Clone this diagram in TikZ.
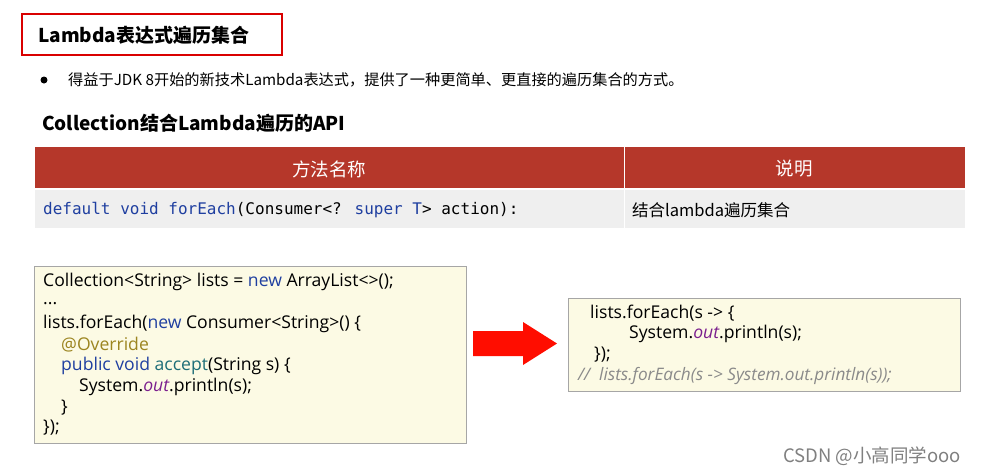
\documentclass[tikz,border=0pt]{standalone}
\usepackage{fontspec}
\setmainfont{Noto Sans CJK SC}
\newfontfamily\monof{DejaVu Sans Mono}
\newfontfamily\codef{Open Sans}
\definecolor{hdr}{HTML}{B5372A}
\definecolor{rowg}{HTML}{EFEFEF}
\definecolor{codebg}{HTML}{FCFAE4}
\definecolor{kw}{HTML}{1F3FA0}
\definecolor{mth}{HTML}{1E6E78}
\definecolor{ann}{HTML}{9C8520}
\definecolor{fld}{HTML}{7B1F8E}
\definecolor{cmt}{HTML}{8A8A8A}
\tikzset{x=1pt,y=-1pt,
  txt/.style={anchor=west,inner sep=0pt},
  code/.style={txt,font=\codef\fontsize{17.6}{18}\selectfont},
  hd/.style={text=white,font=\fontsize{18.5}{20}\selectfont}}
\begin{document}
\begin{tikzpicture}
\useasboundingbox (0,0) rectangle (981,474);
\fill[white] (0,0) rectangle (981,474);
\draw[red!85!black,line width=1.5pt] (22,14) rectangle (282,55);
\node[txt,font=\fontsize{19}{20}\selectfont\bfseries] (t) at (38,35) {Lambda表达式遍历集合};
\fill (44,80) circle (3.5);
\node[txt,font=\fontsize{15.2}{16}\selectfont] (b) at (68,80) {得益于JDK 8开始的新技术Lambda表达式，提供了一种更简单、更直接的遍历集合的方式。};
\node[txt,font=\fontsize{19}{20}\selectfont\bfseries] (h) at (42,123) {Collection结合Lambda遍历的API};
\fill[hdr] (35,147) rectangle (965,188);
\draw[white,line width=1pt] (624,147) -- (624,228);
\fill[rowg] (35,190) rectangle (623.5,228);
\fill[rowg] (624.5,190) rectangle (965,228);
\node[hd] (h1) at (329,169) {方法名称};
\node[hd] (h2) at (794,169) {说明};
\node[txt,font=\monof\fontsize{16}{16}\selectfont] (r1) at (43,210) {\textcolor{kw}{default void forEach}(Consumer<? \textcolor{kw}{super T}> action):};
\node[txt,font=\fontsize{16.5}{18}\selectfont] (r2) at (632,210) {结合lambda遍历集合};
\draw[gray!70,fill=codebg] (34,266) rectangle (466,443);
\node[code] (l1) at (43,282) {Collection<String> lists = \textcolor{kw}{new} ArrayList<>();};
\node[code] (l2) at (43,304) {...};
\node[code] (l3) at (43,324) {lists.forEach(\textcolor{kw}{new} Consumer<String>() \{};
\node[code] (l4) at (61,345) {\textcolor{ann}{@Override}};
\node[code] (l5) at (61,366) {\textcolor{kw}{public void} \textcolor{mth}{accept}(String s) \{};
\node[code] (l6) at (79,387) {System.\textcolor{fld}{\itshape out}.println(s);};
\node[code] (l7) at (61,408) {\}};
\node[code] (l8) at (43,428) {\});};
\draw[gray!70,fill=codebg] (568,298) rectangle (960,391);
\node[code] (m1) at (590,313) {lists.forEach(s -> \{};
\node[code] (m2) at (629,334) {System.\textcolor{fld}{\itshape out}.println(s);};
\node[code] (m3) at (594,355) {\});};
\node[code,text=cmt,font=\codef\fontsize{17.2}{18}\selectfont\itshape] (m4) at (578,376) {//\ \ lists.forEach(s -> System.out.println(s));};
\fill[red!90!orange] (473,331) -- (523,331) -- (523,322) -- (557,343.5) -- (523,365) -- (523,356) -- (473,356) -- cycle;
\node[txt,text=gray,font=\fontsize{18.5}{18}\selectfont] (w) at (783,456) {CSDN @小高同学ooo};
\end{tikzpicture}
\end{document}
